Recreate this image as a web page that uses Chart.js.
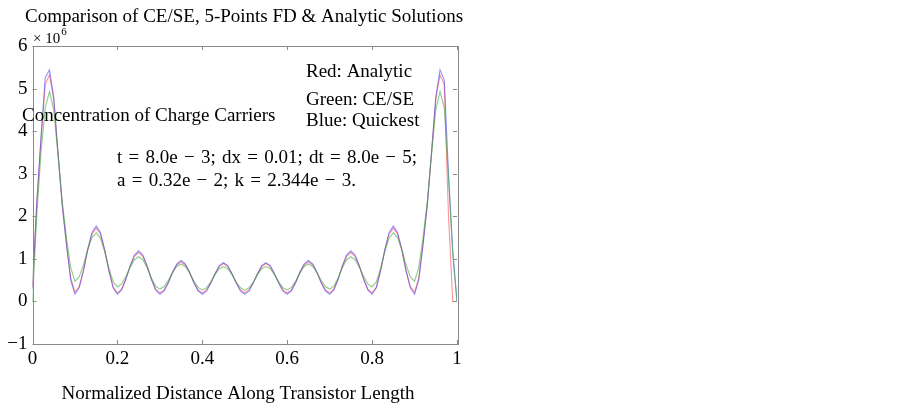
<!DOCTYPE html>
<html>
<head>
<meta charset="utf-8">
<script src="https://cdn.jsdelivr.net/npm/chart.js@4.4.1/dist/chart.umd.min.js"></script>
<style>
  html, body { margin: 0; padding: 0; background: #fff; }
  #wrap { width: 903px; height: 408px; }
</style>
</head>
<body>
<div id="wrap"><canvas id="chart" width="903" height="408"></canvas></div>
<script>
// grid step from the plot note (dx = 0.01), 101 nodes on [0, 1]
const dx = 0.01;
const xs = Array.from({ length: 101 }, (_, i) => +(i * dx).toFixed(2));

// values in units of 1e6
const analytic = [
  0.35, 2.30, 3.80, 5.10, 5.32, 4.75, 3.50, 2.27, 1.35, 0.55,
  0.22, 0.35, 0.73, 1.20, 1.58, 1.72, 1.58, 1.20, 0.73, 0.34,
  0.20, 0.29, 0.53, 0.82, 1.06, 1.15, 1.06, 0.82, 0.53, 0.29,
  0.20, 0.27, 0.45, 0.68, 0.86, 0.93, 0.86, 0.68, 0.45, 0.27,
  0.20, 0.27, 0.44, 0.65, 0.82, 0.89, 0.82, 0.65, 0.44, 0.27,
  0.20, 0.27, 0.44, 0.65, 0.82, 0.89, 0.82, 0.65, 0.44, 0.27,
  0.20, 0.27, 0.45, 0.68, 0.86, 0.93, 0.86, 0.68, 0.45, 0.27,
  0.20, 0.29, 0.53, 0.82, 1.06, 1.15, 1.06, 0.82, 0.53, 0.29,
  0.20, 0.34, 0.73, 1.20, 1.58, 1.72, 1.58, 1.20, 0.73, 0.35,
  0.22, 0.55, 1.35, 2.27, 3.50, 4.75, 5.32, 5.10, 2.00, 0.00,
  0.00
];
const ceSe = [
  0.00, 2.00, 3.50, 4.55, 4.93, 4.50, 3.45, 2.35, 1.50, 0.80,
  0.47, 0.58, 0.86, 1.22, 1.50, 1.61, 1.49, 1.17, 0.78, 0.46,
  0.34, 0.41, 0.59, 0.80, 0.98, 1.05, 0.98, 0.79, 0.55, 0.36,
  0.29, 0.35, 0.49, 0.68, 0.82, 0.88, 0.82, 0.67, 0.48, 0.33,
  0.27, 0.32, 0.46, 0.63, 0.77, 0.82, 0.77, 0.63, 0.45, 0.32,
  0.26, 0.32, 0.45, 0.63, 0.77, 0.82, 0.77, 0.63, 0.46, 0.32,
  0.27, 0.33, 0.48, 0.67, 0.82, 0.88, 0.82, 0.68, 0.49, 0.35,
  0.29, 0.36, 0.55, 0.79, 0.98, 1.05, 0.98, 0.80, 0.59, 0.41,
  0.34, 0.46, 0.78, 1.17, 1.49, 1.61, 1.50, 1.22, 0.86, 0.58,
  0.47, 0.80, 1.50, 2.35, 3.45, 4.50, 4.93, 4.55, 2.90, 1.10,
  0.00
];
const quickest = [
  0.30, 2.30, 3.85, 5.25, 5.44, 4.80, 3.50, 2.27, 1.33, 0.50,
  0.17, 0.32, 0.72, 1.22, 1.62, 1.77, 1.62, 1.22, 0.72, 0.32,
  0.17, 0.27, 0.52, 0.84, 1.09, 1.19, 1.09, 0.84, 0.52, 0.27,
  0.17, 0.25, 0.44, 0.69, 0.88, 0.96, 0.88, 0.69, 0.44, 0.25,
  0.17, 0.24, 0.43, 0.65, 0.84, 0.91, 0.84, 0.65, 0.43, 0.24,
  0.17, 0.24, 0.43, 0.65, 0.84, 0.91, 0.84, 0.65, 0.43, 0.24,
  0.17, 0.25, 0.44, 0.69, 0.88, 0.96, 0.88, 0.69, 0.44, 0.25,
  0.17, 0.27, 0.52, 0.84, 1.09, 1.19, 1.09, 0.84, 0.52, 0.27,
  0.17, 0.32, 0.72, 1.22, 1.62, 1.77, 1.62, 1.22, 0.72, 0.32,
  0.17, 0.50, 1.33, 2.27, 3.50, 4.80, 5.44, 5.20, 3.00, 1.20,
  0.00
];

const xTicks = [0, 0.2, 0.4, 0.6, 0.8, 1];
const yTicks = [-1, 0, 1, 2, 3, 4, 5, 6];

const serif = "'Liberation Serif', 'Times New Roman', serif";

const pts = vals => xs.map((x, i) => ({ x: x, y: vals[i] }));

// box, inward ticks and all the free text
const decorations = {
  id: "decorations",
  afterDraw(chart) {
    const { ctx, chartArea: a, scales } = chart;
    ctx.save();
    ctx.strokeStyle = "#8a8a8a";
    ctx.lineWidth = 1;
    ctx.strokeRect(Math.round(a.left) + 0.5, Math.round(a.top) + 0.5,
      Math.round(a.right - a.left), Math.round(a.bottom - a.top));
    ctx.beginPath();
    xTicks.forEach(v => {
      const px = Math.round(scales.x.getPixelForValue(v)) + 0.5;
      ctx.moveTo(px, a.bottom); ctx.lineTo(px, a.bottom - 4);
      ctx.moveTo(px, a.top); ctx.lineTo(px, a.top + 4);
    });
    yTicks.forEach(v => {
      const py = Math.round(scales.y.getPixelForValue(v)) + 0.5;
      ctx.moveTo(a.left, py); ctx.lineTo(a.left + 4, py);
      ctx.moveTo(a.right, py); ctx.lineTo(a.right - 4, py);
    });
    ctx.stroke();

    ctx.fillStyle = "#000";
    ctx.textBaseline = "middle";
    ctx.font = "19px " + serif;
    ctx.textAlign = "center";
    ctx.fillText("Comparison of CE/SE, 5-Points FD & Analytic Solutions", 244, 17);
    ctx.fillText("Normalized Distance Along Transistor Length", 238, 394);

    ctx.textAlign = "left";
    ctx.fillText("Concentration of Charge Carriers", 22, 116);
    ctx.fillText("Red: Analytic", 306, 72);
    ctx.fillText("Green: CE/SE", 306, 100);
    ctx.fillText("Blue: Quickest", 306, 121);
    ctx.wordSpacing = "1.5px";
    ctx.fillText("t = 8.0e \u2212 3; dx = 0.01; dt = 8.0e \u2212 5;", 117, 158);
    ctx.fillText("a = 0.32e \u2212 2; k = 2.344e \u2212 3.", 117, 181);
    ctx.wordSpacing = "0px";

    ctx.font = "15px " + serif;
    const base = "\u00d7 10";
    ctx.fillText(base, 33, 39);
    const end = 33 + ctx.measureText(base).width;
    ctx.font = "11px " + serif;
    ctx.fillText("6", end + 1, 32);
    ctx.restore();
  }
};

new Chart(document.getElementById("chart"), {
  type: "line",
  data: {
    datasets: [
      { label: "Green: CE/SE", data: pts(ceSe), borderColor: "rgba(60,170,60,0.6)" },
      { label: "Blue: Quickest", data: pts(quickest), borderColor: "rgba(40,40,255,0.5)" },
      { label: "Red: Analytic", data: pts(analytic), borderColor: "rgba(255,40,40,0.5)" }
    ]
  },
  options: {
    responsive: false,
    animation: false,
    layout: { padding: { top: 46, right: 446, left: 0, bottom: 0 } },
    elements: {
      point: { radius: 0 },
      line: { borderWidth: 1.1, tension: 0 }
    },
    plugins: {
      legend: { display: false },
      tooltip: { enabled: false }
    },
    scales: {
      x: {
        type: "linear",
        min: 0,
        max: 1,
        afterFit: s => { s.height = 64; },
        afterBuildTicks: s => { s.ticks = xTicks.map(v => ({ value: v })); },
        grid: { display: false, drawTicks: false },
        border: { display: false },
        ticks: {
          padding: 4,
          color: "#000",
          font: { family: serif, size: 19 },
          callback: v => String(Math.round(v * 10) / 10)
        }
      },
      y: {
        min: -1,
        max: 6,
        afterFit: s => { s.width = 32.5; },
        afterBuildTicks: s => { s.ticks = yTicks.map(v => ({ value: v })); },
        grid: { display: false, drawTicks: false },
        border: { display: false },
        ticks: {
          padding: 5,
          color: "#000",
          font: { family: serif, size: 19 },
          callback: v => (v < 0 ? "\u2212" + Math.abs(v) : String(v))
        }
      }
    }
  },
  plugins: [decorations]
});
</script>
</body>
</html>
